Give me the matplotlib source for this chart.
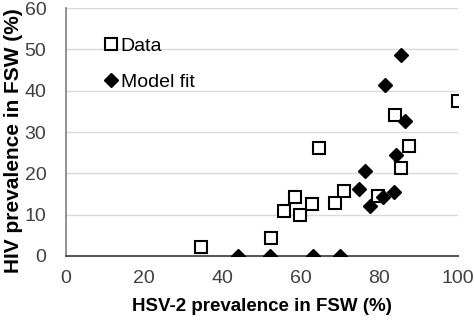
import matplotlib
matplotlib.use("Agg")
import matplotlib.pyplot as plt

plt.rcParams['font.family'] = ['Liberation Sans', 'DejaVu Sans']

# Observed HSV-2 vs HIV prevalence among female sex workers (%)
data_hsv2 = [34.5, 52.3, 55.6, 58.5, 59.6, 62.9, 64.5, 68.6, 70.9, 79.7, 83.9, 85.4, 87.5, 100.0]
data_hiv = [2.2, 4.3, 10.8, 14.3, 9.8, 12.5, 26.2, 12.9, 15.8, 14.5, 34.1, 21.4, 26.5, 37.5]

# Model-fitted values
fit_hsv2 = [44.0, 52.0, 63.0, 69.9, 74.7, 76.4, 77.7, 80.9, 83.6, 81.5, 85.4, 84.1, 86.4]
fit_hiv = [0.0, 0.0, 0.0, 0.0, 16.3, 20.5, 12.0, 14.3, 15.4, 41.3, 48.6, 24.4, 32.7]

x_ticks = [0, 20, 40, 60, 80, 100]
y_ticks = [0, 10, 20, 30, 40, 50, 60]

fig = plt.figure(figsize=(4.74, 3.22), dpi=100)
ax = fig.add_axes([0.139, 0.205, 0.827, 0.77])

ax.plot(data_hsv2, data_hiv, linestyle='none', marker='s', markersize=8,
        markerfacecolor='white', markeredgecolor='black', markeredgewidth=1.5,
        label='Data', zorder=3)
ax.plot(fit_hsv2, fit_hiv, linestyle='none', marker='D', markersize=7,
        markerfacecolor='black', markeredgecolor='black',
        label='Model fit', zorder=4)

ax.set_xlim(0, 100)
ax.set_ylim(0, 60)
ax.set_xticks(x_ticks)
ax.set_yticks(y_ticks)
ax.tick_params(length=0, labelsize=14, colors='#404040')
ax.tick_params(axis='y', pad=14)
ax.tick_params(axis='x', pad=10)
ax.yaxis.grid(True, color='#d9d9d9', linewidth=1)
ax.set_axisbelow(True)
for side in ('top', 'right'):
    ax.spines[side].set_visible(False)
ax.spines['left'].set_color('#7f7f7f')
ax.spines['bottom'].set_color('#595959')
ax.spines['left'].set_linewidth(1.2)
ax.spines['bottom'].set_linewidth(1.5)
for lab in ax.get_xticklabels() + ax.get_yticklabels():
    lab.set_clip_on(False)

ax.set_xlabel('HSV-2 prevalence in FSW (%)', fontsize=13.5, fontweight='bold')
ax.set_ylabel('HIV prevalence in FSW (%)', fontsize=15, fontweight='bold')
ax.xaxis.set_label_coords(0.5, -0.17)
ax.yaxis.set_label_coords(-0.11, 0.465)

leg = ax.legend(loc='upper left', bbox_to_anchor=(0.07, 0.915), frameon=False,
                fontsize=14, handletextpad=0.0, labelspacing=0.95,
                handlelength=1.0, borderaxespad=0)

fig.savefig('out.png', dpi=100)
